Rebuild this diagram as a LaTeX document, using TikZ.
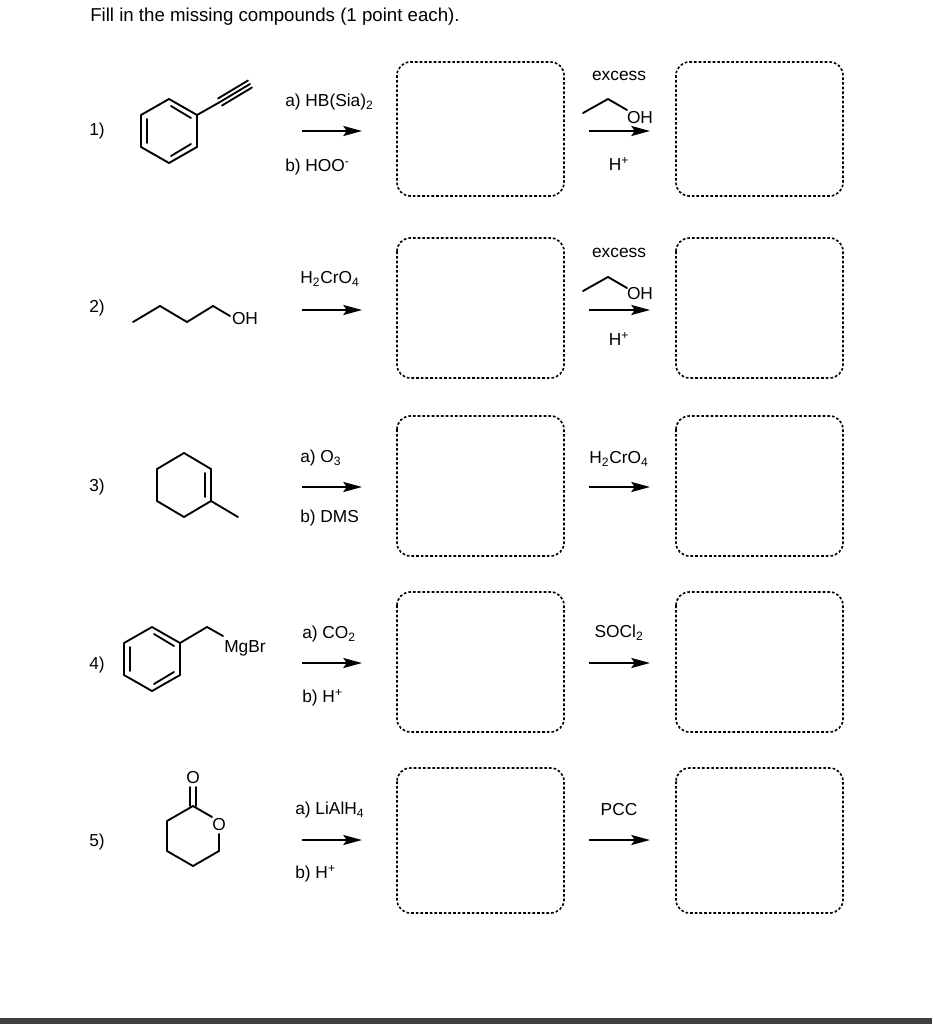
\documentclass[tikz,border=0pt]{standalone}
\usepackage{fontspec}
\setmainfont{Liberation Sans}
\usetikzlibrary{arrows.meta}
\newcommand{\sbs}[1]{\textsubscript{#1}}
\newcommand{\sps}[1]{\textsuperscript{#1}}
\begin{document}
\begin{tikzpicture}[x=0.75pt,y=-0.75pt,
  lab/.style={font=\fontsize{13}{15}\selectfont,inner sep=0pt},
  bond/.style={line width=1.4pt,line join=round,line cap=round},
  rxn/.style={line width=1.4pt,-{Stealth[length=14pt,width=7.5pt,inset=2.5pt]}},
  ansbox/.style={draw,line width=1.2pt,dash pattern=on 2pt off 1.5pt,rounded corners=10pt}]
\useasboundingbox (0,0) rectangle (932,1024);
\fill[white] (0,0) rectangle (932,1024);
\node[lab,anchor=west,font=\fontsize{14}{16}\selectfont] (title) at (90,17) {Fill in the missing compounds (1 point each).};
\fill[black!75] (0,1018) rectangle (932,1024);
% boxes
\foreach \t/\b/\n in {62/196/1,238/378/2,416/556/3,592/732/4,768/913/5}{
  \draw[ansbox] (397,\t) rectangle (564,\b);
  \draw[ansbox] (676,\t) rectangle (843,\b);
}
% numbers
\node[lab] (n1) at (97,131) {1)};
\node[lab] (n2) at (97,308) {2)};
\node[lab] (n3) at (97,487) {3)};
\node[lab] (n4) at (97,665) {4)};
\node[lab] (n5) at (97,842) {5)};
% arrows
\foreach \y/\n in {131/1,310/2,487/3,663/4,840/5}{
  \coordinate (a\n s) at (302,\y); \coordinate (a\n e) at (362,\y);
  \draw[rxn] (a\n s) -- (a\n e);
  \coordinate (b\n s) at (589,\y); \coordinate (b\n e) at (650,\y);
  \draw[rxn] (b\n s) -- (b\n e);
}
\node[lab,anchor=west] (r1a) at (285,102) {a) HB(Sia)\sbs{2}};
\node[lab,anchor=west] (r1b) at (285,167) {b) HOO\sps{-}};
\node[lab] (r2) at (330,279) {H\sbs{2}CrO\sbs{4}};
\node[lab,anchor=west] (r3a) at (300,458) {a) O\sbs{3}};
\node[lab,anchor=west] (r3b) at (300,518) {b) DMS};
\node[lab,anchor=west] (r4a) at (302,634) {a) CO\sbs{2}};
\node[lab,anchor=west] (r4b) at (302,698) {b) H\sps{+}};
\node[lab,anchor=west] (r5a) at (295,810) {a) LiAlH\sbs{4}};
\node[lab,anchor=west] (r5b) at (295,874) {b) H\sps{+}};
% second reagents
\node[lab] (e1) at (619,76) {excess};
\draw[bond] (583,113) -- (608,99) -- (627,110);
\node[lab] (oh1) at (640,118) {OH};
\node[lab] (h1) at (619,164) {H\sps{+}};
\node[lab] (e2) at (619,253) {excess};
\draw[bond] (583,291) -- (608,277) -- (627,288);
\node[lab] (oh2) at (640,294) {OH};
\node[lab] (h2) at (619,339) {H\sps{+}};
\node[lab] (s3) at (619,459) {H\sbs{2}CrO\sbs{4}};
\node[lab] (s4) at (619,633) {SOCl\sbs{2}};
\node[lab] (s5) at (619,810) {PCC};
% molecule 1
\draw[bond] (169,99) -- (197,115) -- (197,147) -- (169,163) -- (141,147) -- (141,115) -- cycle;
\draw[bond] (147,119) -- (147,143);
\draw[bond] (171,106) -- (191,118);
\draw[bond] (191,144) -- (171,156);
\draw[bond] (197,115) -- (220,102) -- (250,84);
\draw[bond] (218,98.5) -- (248,80.5);
\draw[bond] (222,105.5) -- (252,87.5);
% molecule 2
\draw[bond] (133,322) -- (160,306) -- (187,322) -- (213,306) -- (230,316);
\node[lab] (oh3) at (245,319) {OH};
% molecule 3
\draw[bond] (184,453) -- (211,469) -- (211,501) -- (184,517) -- (157,501) -- (157,469) -- cycle;
\draw[bond] (205,473) -- (205,497);
\draw[bond] (211,501) -- (238,517);
% molecule 4
\draw[bond] (152,627) -- (180,643) -- (180,675) -- (152,691) -- (124,675) -- (124,643) -- cycle;
\draw[bond] (130,647) -- (130,671);
\draw[bond] (154,634) -- (174,646);
\draw[bond] (174,672) -- (154,684);
\draw[bond] (180,643) -- (207,627) -- (223,636);
\node[lab] (mg) at (245,648) {MgBr};
% molecule 5
\draw[bond] (193,806) -- (212,817);
\node[lab] (ro) at (219,825) {O};
\draw[bond] (219,834) -- (219,851) -- (193,866) -- (167,851) -- (167,821) -- (193,806);
\draw[bond] (190,806) -- (190,787);
\draw[bond] (196,806) -- (196,787);
\node[lab] (co) at (193,778) {O};
\end{tikzpicture}
\end{document}
